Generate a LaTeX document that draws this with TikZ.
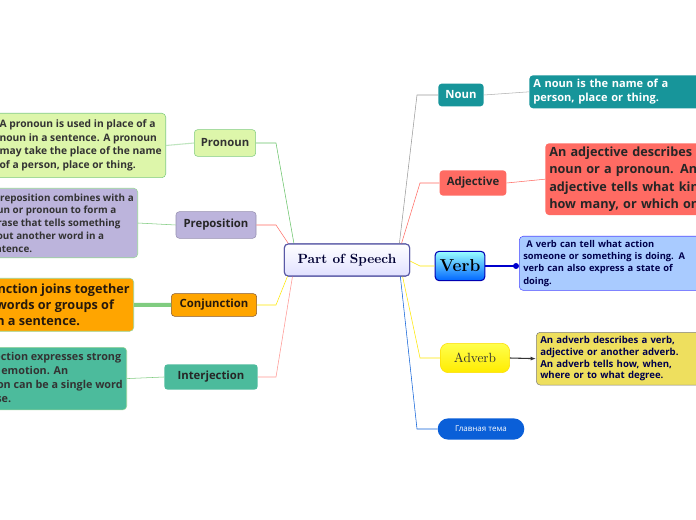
\documentclass[tikz,border=0pt]{standalone}
\usepackage{fontspec}
\setmainfont{Open Sans}
\newfontfamily\lmr{Latin Modern Roman}
\usetikzlibrary{arrows.meta}
\definecolor{teal1}{HTML}{17959A}
\definecolor{red1}{HTML}{FF6B63}
\definecolor{blue1}{HTML}{A9CBFF}
\definecolor{yel1}{HTML}{EEDF5E}
\definecolor{gr1}{HTML}{DDF6AA}
\definecolor{lav}{HTML}{BCB4DC}
\definecolor{org}{HTML}{FFA500}
\definecolor{tg}{HTML}{4CBB9C}
\definecolor{mainb}{HTML}{0A5FD8}
\definecolor{txt}{HTML}{333333}
\tikzset{
 br/.style={rounded corners=2.5pt, inner sep=3pt, font=\bfseries\fontsize{8.5}{10}\selectfont, text=txt},
 ds/.style={rounded corners=3pt, align=left, inner sep=3pt, text=txt},
 ctr/.style={draw=gray!70!blue, thick, rounded corners=3pt, top color=white, bottom color=blue!12, minimum width=94pt, minimum height=24pt, font=\lmr\bfseries\fontsize{10}{12}\selectfont, text=black!80!blue},
}
\begin{document}
\begin{tikzpicture}[x=0.75pt,y=-0.75pt]
\useasboundingbox (0,0) rectangle (696,520);
\clip (0,0) rectangle (696,520);
\fill[white] (0,0) rectangle (696,520);
\node[ctr] (c) at (347,260) {Part of Speech};
% right branches
\node[br, fill=teal1, text=white, minimum width=34pt, minimum height=17pt] (noun) at (461,95) {Noun};
\node[br, fill=red1, text=black!85, minimum width=50pt, minimum height=19pt] (adj) at (473,183) {Adjective};
\node[draw=blue!70!black, thick, rounded corners=3pt, top color=cyan!40, bottom color=blue!60!cyan, minimum width=32pt, minimum height=22pt, font=\lmr\bfseries\fontsize{13}{14}\selectfont] (verb) at (460,266) {Verb};
\node[draw=yellow!80!orange, rounded corners=6pt, top color=yellow!70, bottom color=yellow!85!orange, minimum width=52pt, minimum height=22pt, font=\lmr\fontsize{10}{12}\selectfont, text=black!80] (adv) at (475,358) {Adverb};
\node[fill=mainb, text=white, rounded corners=8pt, minimum width=65pt, minimum height=16pt, font=\fontsize{6}{7}\selectfont] (gl) at (481,429) {Главная тема};
% right descriptions
\node[ds, fill=teal1, text=white, anchor=north west, text width=135pt, font=\bfseries\fontsize{8.3}{10.5}\selectfont] (nd) at (529,75) {A noun is the name of a\\person, place or thing.};
\node[ds, fill=red1, text=black!85, anchor=north west, text width=150pt, font=\bfseries\fontsize{9.5}{12.8}\selectfont] (ad) at (545,143) {An adjective describes a\\noun or a pronoun. An\\adjective tells what kind,\\how many, or which one.};
\node[ds, draw=blue!70, fill=blue1, text=black!70!blue, anchor=north west, text width=140pt, font=\bfseries\fontsize{7}{9.2}\selectfont] (vd) at (519,236) {\ A verb can tell what action\\someone or something is doing. A\\verb can also express a state of\\doing.};
\node[ds, draw=gray, fill=yel1, text=black!70!blue, anchor=north west, text width=135pt, font=\bfseries\fontsize{7.2}{8.8}\selectfont] (avd) at (536,332) {An adverb describes a verb,\\adjective or another adverb.\\An adverb tells how, when,\\where or to what degree.};
% left branches
\node[br, draw=green!60!black!50, fill=gr1, minimum width=46pt, minimum height=20pt] (pro) at (225,143) {Pronoun};
\node[br, draw=lav!80!black, fill=lav, text=black!85, minimum width=60pt, minimum height=20pt] (pre) at (216,225) {Preposition};
\node[br, draw=brown!70!black, fill=org, text=black!80!brown, minimum width=64pt, minimum height=17pt] (con) at (214,305) {Conjunction};
\node[br, fill=tg, text=black!85, minimum width=70pt, minimum height=19pt] (int) at (211,377) {Interjection};
% left descriptions
\node[ds, draw=green!60!black!50, fill=gr1, anchor=north east, inner ysep=5pt, inner xsep=3pt, font=\bfseries\fontsize{7.7}{10.2}\selectfont] (pd) at (166,113) {A pronoun is used in place of a\\noun in a sentence. A pronoun\\may take the place of the name\\of a person, place or thing.\hspace{8pt}};
\node[ds, draw=green!60!black!40, fill=lav, anchor=north east, inner ysep=4pt, font=\bfseries\fontsize{7.4}{9.6}\selectfont] (prd) at (138,188) {A preposition combines with a\hspace{16pt}\\noun or pronoun to form a\\phrase that tells something\\about another word in a\\sentence.};
\node[ds, draw=green!60!black!40, fill=org, text=black!80!brown, anchor=north east, inner ysep=4pt, font=\bfseries\fontsize{9.5}{12.2}\selectfont] (cd) at (134,278) {A conjunction joins together\hspace{5pt}\\words, words or groups of\\words in a sentence.};
\node[ds, draw=green!60!black!40, fill=tg, anchor=north east, inner ysep=4pt, font=\bfseries\fontsize{8.1}{10.3}\selectfont] (id) at (127,347) {An interjection expresses strong\hspace{6pt}\\feeling or emotion. An\\interjection can be a single word\\or a phrase.};
% main connectors
\coordinate (r) at (398,255);
\coordinate (l) at (296,255);
\draw[gray!80] (r) -- (417,95) -- (noun.west);
\draw[red1] (r) -- (420,183) -- (adj.west);
\draw[yellow!90!orange] (r) -- (420,266) -- (verb.west);
\draw[yellow!90!orange] (r) -- (420,358) -- (adv.west);
\draw[mainb] (r) -- (417,429) -- (gl.west);
\draw[green!60!black!60] (l) -- (276,143) -- (pro.east);
\draw[red1] (l) -- (276,225) -- (pre.east);
\draw[yellow!90!orange] (l) -- (276,305) -- (con.east);
\draw[red1!70] (l) -- (276,377) -- (int.east);
\node[ctr] at (347,260) {Part of Speech};
% sub connectors
\draw[gray!60] (noun.east) -- (nd.west);
\draw[red1] (adj.east) -- (ad.west);
\draw[blue!80!black, thick] (verb.east) -- (516,266);
\fill[blue!80!black] (516,266) circle (3);
\draw[gray!40!black, thick, -{Latex[length=4pt]}] (adv.east) -- (avd.west);
\draw[green!60!black!25, thick] (pro.west) -- (pd.east);
\draw[green!60!black!50] (pre.west) -- (prd.east);
\draw[green!60!black!50, line width=3pt] (con.west) -- (cd.east);
\draw[green!60!black!50] (int.west) -- (id.east);
\end{tikzpicture}
\end{document}
